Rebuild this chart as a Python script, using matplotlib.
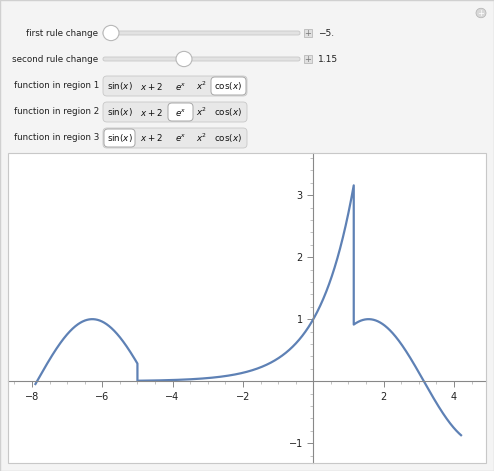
import numpy as np
import matplotlib.pyplot as plt
from matplotlib.patches import FancyBboxPatch, Rectangle

W, H = 494, 471

# control settings
slider_labels = ["first rule change", "second rule change"]
slider_values = [-5.0, 1.15]
slider_text = ["\u22125.", "1.15"]
button_names = [r"sin($x$)", r"$x+2$", r"$e^x$", r"$x^2$", r"cos($x$)"]
region_labels = ["function in region 1", "function in region 2", "function in region 3"]
region_choice = [4, 2, 0]   # cos, exp, sin
x_start, x_end = -7.9, 4.2
xticks = [-8, -6, -4, -2, 2, 4]
yticks = [-1, 1, 2, 3]

funcs = [np.sin, lambda x: x + 2, np.exp, lambda x: x ** 2, np.cos]


def fx(px):
    return px / W


def fy(py):
    return 1 - py / H


fig = plt.figure(figsize=(W / 100, H / 100), dpi=100)
fig.patch.set_facecolor("#f4f4f4")
fig.patches.append(Rectangle((0, 0), 1, 1, transform=fig.transFigure,
                             fc="#f4f4f4", ec="#d0d0d0", lw=1, zorder=-2))

# sliders
thumb_px = [111, 184]
for i, (lab, txt) in enumerate(zip(slider_labels, slider_text)):
    yc = 33 + 26 * i
    fig.text(fx(98), fy(yc), lab, ha="right", va="center", fontsize=6.3, color="#222")
    fig.patches.append(FancyBboxPatch((fx(103), fy(yc + 2)), fx(197), 4 / H,
                                      boxstyle="round,pad=0,rounding_size=0.004",
                                      transform=fig.transFigure, fc="#e2e2e2", ec="#c8c8c8", lw=0.6))
    fig.patches.append(plt.Circle((fx(thumb_px[i]), fy(yc)), 8 / W, transform=fig.transFigure,
                                  fc="white", ec="#b8b8b8", lw=0.8))
    fig.patches.append(Rectangle((fx(304), fy(yc + 4)), 8 / W, 8 / H, transform=fig.transFigure,
                                 fc="#e0e0e0", ec="#b0b0b0", lw=0.5))
    fig.text(fx(308), fy(yc), "+", ha="center", va="center", fontsize=6, color="#777")
    fig.text(fx(318), fy(yc), txt, ha="left", va="center", fontsize=6.5, color="#222")

fig.patches.append(plt.Circle((fx(481), fy(13)), 5 / W, transform=fig.transFigure,
                              fc="#d8d8d8", ec="#b0b0b0", lw=0.5))
fig.text(fx(481), fy(13), "+", ha="center", va="center", fontsize=6, color="white")

# button bars
edges = [103, 136, 167, 194, 210, 247]
for r, lab in enumerate(region_labels):
    yc = 86 + 26 * r
    fig.text(fx(14), fy(yc), lab, ha="left", va="center", fontsize=6.3, color="#222")
    fig.patches.append(FancyBboxPatch((fx(edges[0]), fy(yc + 10)), fx(edges[-1] - edges[0]), 20 / H,
                                      boxstyle="round,pad=0,rounding_size=0.008",
                                      transform=fig.transFigure, fc="#e8e8e8", ec="#c8c8c8", lw=0.6))
    for k, name in enumerate(button_names):
        a, b = edges[k], edges[k + 1]
        if k == region_choice[r]:
            fig.patches.append(FancyBboxPatch((fx(a + 1), fy(yc + 9)), fx(b - a - 2), 18 / H,
                                              boxstyle="round,pad=0,rounding_size=0.008",
                                              transform=fig.transFigure, fc="white", ec="#a8a8a8", lw=0.7))
        fig.text(fx((a + b) / 2), fy(yc), name, ha="center", va="center", fontsize=6.3, color="#111")

# plot area
ax = fig.add_axes([fx(8), fy(463), fx(478), 310 / H], zorder=5)
ax.set_facecolor("white")

b1, b2 = slider_values
x = np.linspace(x_start, x_end, 2000)
x = np.sort(np.concatenate([x, [b1, b1, b2, b2]]))
y = np.where(x < b1, funcs[region_choice[0]](x),
             np.where(x < b2, funcs[region_choice[1]](x), funcs[region_choice[2]](x)))
# make the jumps vertical
i1 = np.searchsorted(x, b1)
i2 = np.searchsorted(x, b2)
y[i1] = funcs[region_choice[0]](b1)
y[i2] = funcs[region_choice[1]](b2)
ax.plot(x, y, color="#5e81b5", lw=1.6)

ax.set_xlim(-8.68, 4.91)
ax.set_ylim(-1.32, 3.68)
for s in ["top", "right"]:
    ax.spines[s].set_visible(False)
ax.spines["left"].set_position(("data", 0))
ax.spines["bottom"].set_position(("data", 0))
for s in ["left", "bottom"]:
    ax.spines[s].set_color("#888")
    ax.spines[s].set_linewidth(0.8)
ax.set_xticks(xticks)
ax.set_yticks(yticks)
ax.set_xticklabels([str(t).replace("-", "\u2212") for t in xticks])
ax.set_yticklabels([str(t).replace("-", "\u2212") for t in yticks])
ax.xaxis.set_minor_locator(plt.MultipleLocator(0.5))
ax.yaxis.set_minor_locator(plt.MultipleLocator(0.2))
ax.tick_params(which="major", length=4, width=0.7, color="#888", labelsize=7, labelcolor="#222")
ax.tick_params(which="minor", length=2, width=0.5, color="#aaa")

# frame of the white plot box
fig.patches.append(Rectangle((fx(8), fy(463)), fx(478), 310 / H, transform=fig.transFigure,
                             fc="none", ec="#c8c8c8", lw=0.8, zorder=6))

fig.savefig("out.png", dpi=100, facecolor=fig.get_facecolor())
